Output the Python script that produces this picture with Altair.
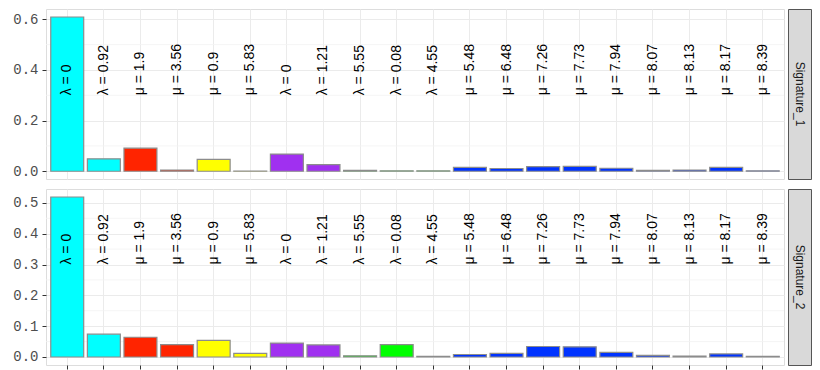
import altair as alt
import pandas as pd

labels = ["λ = 0", "λ = 0.92", "μ = 1.9", "μ = 3.56", "μ = 0.9", "μ = 5.83",
          "λ = 0", "λ = 1.21", "λ = 5.55", "λ = 0.08", "λ = 4.55", "μ = 5.48",
          "μ = 6.48", "μ = 7.26", "μ = 7.73", "μ = 7.94", "μ = 8.07", "μ = 8.13",
          "μ = 8.17", "μ = 8.39"]
groups = ["c", "c", "r", "r", "y", "y", "p", "p", "g", "g", "g",
          "b", "b", "b", "b", "b", "b", "b", "b", "b"]
group_domain = ["c", "r", "y", "p", "g", "b"]
group_colors = ["#00FFFF", "#FF2400", "#FFFF00", "#A030F0", "#00FF00", "#0033FF"]

sig1 = [0.609, 0.049, 0.091, 0.005, 0.047, 0.001, 0.068, 0.026, 0.004, 0.002,
        0.002, 0.015, 0.011, 0.018, 0.019, 0.012, 0.004, 0.005, 0.015, 0.002]
sig2 = [0.519, 0.074, 0.064, 0.040, 0.054, 0.012, 0.045, 0.039, 0.004, 0.040,
        0.002, 0.008, 0.012, 0.034, 0.033, 0.015, 0.005, 0.003, 0.010, 0.002]

sig_names = ["Signature_1", "Signature_2"]
y_major = [[0.0, 0.2, 0.4, 0.6], [0.0, 0.1, 0.2, 0.3, 0.4, 0.5]]
y_minor = [[0.1, 0.3, 0.5], [0.05, 0.15, 0.25, 0.35, 0.45]]
y_domains = [[-0.0305, 0.6405], [-0.026, 0.545]]
label_y = 0.3

heights = [170, 176]
W = 738


def panel(vals, idx, bottom):
    df = pd.DataFrame({"id": list(range(len(vals))), "value": vals,
                       "label": labels, "group": groups})
    yscale = alt.Scale(domain=y_domains[idx], nice=False, zero=False)
    xaxis = alt.Axis(labels=False, ticks=bottom, tickSize=4, tickColor="#333333",
                     domain=False, grid=True, gridColor="#EBEBEB", gridWidth=1,
                     bandPosition=0.5, title="")
    xenc = alt.X("id:O", axis=xaxis,
                 scale=alt.Scale(paddingInner=0.1, paddingOuter=0.13))
    yaxis = alt.Axis(values=y_major[idx], format=".1f", title="", domain=False,
                     grid=True, gridColor="#EBEBEB", gridWidth=1,
                     tickColor="#333333", tickSize=4, labelPadding=4,
                     labelOverlap=False,
                     labelFont="Courier New, Liberation Mono, monospace",
                     labelFontSize=14, labelColor="#4D4D4D")
    minor = alt.Chart(pd.DataFrame({"v": y_minor[idx]})).mark_rule(
        color="#F2F2F2", strokeWidth=0.8
    ).encode(y=alt.Y("v:Q", scale=yscale, axis=yaxis))
    bars = alt.Chart(df).mark_bar(stroke="#8C8C8C", strokeWidth=1.2).encode(
        x=xenc,
        y=alt.Y("value:Q", scale=yscale, axis=yaxis),
        y2=alt.datum(0),
        color=alt.Color("group:N", scale=alt.Scale(domain=group_domain,
                                                   range=group_colors),
                        legend=None),
    )
    text = alt.Chart(df).mark_text(angle=270, align="left", baseline="middle",
                                   font="Liberation Sans", fontSize=14,
                                   color="#000000").encode(
        x=xenc,
        y=alt.YDatum(label_y, scale=yscale, axis=yaxis),
        text="label:N",
    )
    main = alt.layer(minor, bars, text).properties(width=W, height=heights[idx])
    strip = alt.Chart(pd.DataFrame({"s": [sig_names[idx]]})).mark_text(
        angle=90, font="Liberation Sans", fontSize=12, color="#1A1A1A",
        baseline="middle", align="center"
    ).encode(
        text="s:N", x=alt.value(11.5), y=alt.value(heights[idx] / 2)
    ).properties(width=23, height=heights[idx],
                 view=alt.ViewBackground(fill="#D9D9D9", stroke="#555555"))
    return alt.hconcat(main, strip, spacing=2)


chart = alt.vconcat(panel(sig1, 0, False), panel(sig2, 1, True), spacing=8
).properties(
    padding={"left": 4, "top": 0, "right": 0, "bottom": 0}
).configure_view(stroke="#7F7F7F", strokeWidth=1).configure(background="white")

chart.save("out.html", embed_options={"renderer": "svg", "actions": False})
